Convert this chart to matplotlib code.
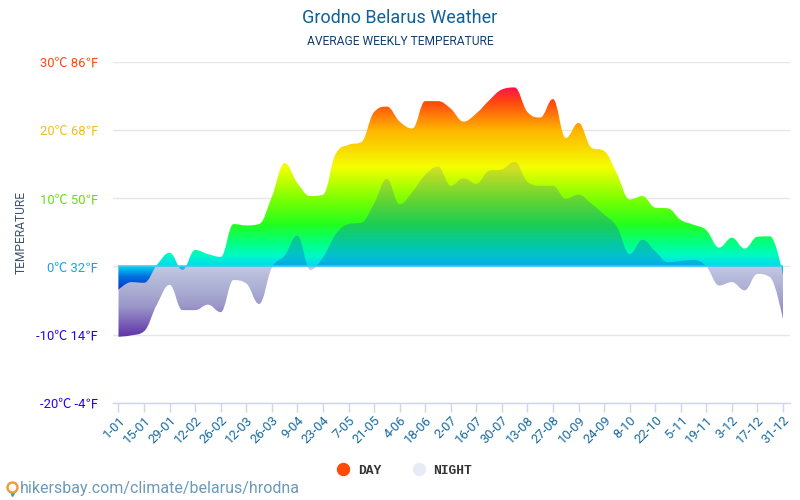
import numpy as np
import matplotlib
matplotlib.use("Agg")
import matplotlib.pyplot as plt
from matplotlib.colors import LinearSegmentedColormap
from matplotlib.lines import Line2D
from matplotlib.path import Path
from matplotlib.patches import PathPatch

# ---- data -------------------------------------------------------------
week_index = list(range(53))
day_temp = [-3.4, -2.3, -2.4, 0.2, 2.0, -0.5, 2.4, 1.8, 1.4, 6.2, 6.0, 6.2, 10.2,
            15.1, 12.2, 10.3, 10.5, 16.5, 17.8, 18.2, 22.6, 23.4, 21.2, 20.2,
            24.2, 24.2, 23.1, 21.2, 22.4, 24.3, 25.9, 26.2, 22.6, 21.8, 24.5,
            18.8, 21.0, 17.4, 16.9, 13.6, 9.8, 10.3, 8.6, 8.5, 6.8, 6.1, 5.3,
            2.75, 4.2, 2.6, 4.35, 4.4, -1.2]
night_temp = [-10.3, -10.1, -9.5, -5.6, -2.7, -6.4, -6.4, -5.6, -6.7, -2.0, -2.5,
              -5.5, -0.2, 1.6, 4.5, -0.5, 1.3, 4.7, 6.2, 6.4, 9.2, 12.8, 9.1,
              10.9, 13.4, 14.6, 11.8, 12.9, 12.1, 14.0, 14.2, 15.3, 12.4, 11.8,
              11.8, 9.9, 10.5, 9.2, 7.6, 5.8, 1.8, 3.9, 2.2, 0.6, 0.8, 0.95, 0.0,
              -2.8, -2.3, -3.5, -1.1, -1.6, -7.7]
tick_labels = ["1-01", "15-01", "29-01", "12-02", "26-02", "12-03", "26-03", "9-04",
               "23-04", "7-05", "21-05", "4-06", "18-06", "2-07", "16-07", "30-07",
               "13-08", "27-08", "10-09", "24-09", "8-10", "22-10", "5-11", "19-11",
               "3-12", "17-12", "31-12"]
y_values = [30, 20, 10, 0, -10, -20]
y_labels = ["30℃ 86℉", "20℃ 68℉", "10℃ 50℉", "0℃ 32℉", "-10℃ 14℉", "-20℃ -4℉"]
y_colors = ["#ff4a12", "#f5bd1f", "#66e011", "#12a5e8", "#2a00f0", "#2a00f0"]

# ---- style ------------------------------------------------------------
W, H = 800, 500
FONT = ["Roboto", "Noto Sans CJK SC", "DejaVu Sans"]
plt.rcParams["font.family"] = FONT
px = 0.72  # pixels -> points at dpi 100

fig = plt.figure(figsize=(W / 100, H / 100), dpi=100, facecolor="white")
L, R, T, B = 113, 790, 61.5, 403
ax = fig.add_axes([L / W, 1 - B / H, (R - L) / W, (B - T) / H])

PX_PER_WEEK = (783 - 118.5) / 52
xmin = -(118.5 - L) / PX_PER_WEEK
xmax = 52 + (R - 783) / PX_PER_WEEK


def spline_area(xs, ys, smoothing=1.5):
    """Closed area from the baseline 0 to a smooth curve through the given points."""
    n = len(xs)
    verts = [(xs[0], 0.0), (xs[0], ys[0])]
    codes = [Path.MOVETO, Path.LINETO]
    left, right = [None] * n, [None] * n
    for i in range(n):
        x, y = xs[i], ys[i]
        if i == 0 or i == n - 1:
            left[i] = right[i] = (x, y)
            continue
        xp, yp, xn, yn = xs[i - 1], ys[i - 1], xs[i + 1], ys[i + 1]
        d = smoothing + 1
        lx, ly = (smoothing * x + xp) / d, (smoothing * y + yp) / d
        rx, ry = (smoothing * x + xn) / d, (smoothing * y + yn) / d
        corr = (ry - ly) * (rx - x) / (rx - lx) + y - ry
        ly += corr
        ry += corr
        if ly > yp and ly > y:
            ly = max(yp, y)
            ry = 2 * y - ly
        elif ly < yp and ly < y:
            ly = min(yp, y)
            ry = 2 * y - ly
        if ry > yn and ry > y:
            ry = max(yn, y)
            ly = 2 * y - ry
        elif ry < yn and ry < y:
            ry = min(yn, y)
            ly = 2 * y - ry
        left[i], right[i] = (lx, ly), (rx, ry)
    for i in range(1, n):
        verts += [right[i - 1], left[i], (xs[i], ys[i])]
        codes += [Path.CURVE4] * 3
    verts += [(xs[-1], 0.0), (xs[0], 0.0)]
    codes += [Path.LINETO, Path.CLOSEPOLY]
    return Path(verts, codes)


def norm(v):
    return (v + 20) / 50


day_cmap = LinearSegmentedColormap.from_list("day", [
    (norm(-20), "#0030c0"), (norm(-3.4), "#0038d0"), (norm(-1.5), "#0070e0"),
    (norm(0), "#00d8f0"), (norm(1.5), "#00f8c8"), (norm(3), "#00ff90"),
    (norm(6), "#20ff20"), (norm(10), "#80ff00"), (norm(14.5), "#f4ff00"),
    (norm(20), "#ffb400"), (norm(24), "#ff4a10"), (norm(26.5), "#ff0a50"),
    (norm(30), "#ff0060")])
night_neg_cmap = LinearSegmentedColormap.from_list("night_neg", [
    (norm(-20), "#5a28a4"), (norm(-10.3), "#5f34a8"), (norm(-6), "#9a96c8"),
    (norm(-3), "#aeb2d6"), (norm(0), "#c2c8e3"), (norm(0.001), (1, 1, 1, 0)),
    (norm(30), (1, 1, 1, 0))])
night_pos_cmap = LinearSegmentedColormap.from_list("night_pos", [
    (norm(-20), (0.1, 0.25, 0.9, 0)), (norm(-0.001), (0.1, 0.25, 0.9, 0)),
    (norm(0), (0.05, 0.3, 0.85, 0.34)), (norm(6), (0.05, 0.28, 0.9, 0.27)),
    (norm(16), (0.2, 0.2, 0.85, 0.14)), (norm(30), (0.2, 0.2, 0.85, 0.12))])

grad = np.linspace(1, 0, 1000).reshape(-1, 1)
extent = [xmin, xmax, -20, 30]

day_patch = PathPatch(spline_area(week_index, day_temp), fc="none", ec="none",
                      transform=ax.transData)
night_patch = PathPatch(spline_area(week_index, night_temp), fc="none", ec="none",
                        transform=ax.transData)
ax.add_patch(day_patch)
ax.add_patch(night_patch)

for cmap, z, patch in [(night_neg_cmap, 2, night_patch), (day_cmap, 3, day_patch),
                       (night_pos_cmap, 4, night_patch)]:
    im = ax.imshow(grad, cmap=cmap, vmin=0, vmax=1, extent=extent, aspect="auto",
                   zorder=z, interpolation="bilinear")
    im.set_clip_path(patch)

ax.plot([week_index[0], week_index[-1]], [0, 0], color="#35d0ea", lw=1.1, zorder=5,
        solid_capstyle="butt")

ax.set_xlim(xmin, xmax)
ax.set_ylim(-20, 30)
for side in ("top", "left", "right"):
    ax.spines[side].set_visible(False)
ax.spines["bottom"].set_color("#ccd6eb")
ax.spines["bottom"].set_linewidth(1)
ax.set_axisbelow(True)
ax.yaxis.grid(True, color="#e6e6e6", lw=1)
ax.xaxis.grid(False)

ax.set_yticks(y_values)
ax.set_yticklabels(y_labels, fontsize=13 * px)
for lab, c in zip(ax.get_yticklabels(), y_colors):
    lab.set_color(c)
ax.tick_params(axis="y", length=0, pad=14.5 * px)

ax.set_xticks(np.arange(0, 53, 2))
ax.set_xticklabels(tick_labels, rotation=45, ha="right", va="top", rotation_mode="anchor",
                   fontsize=13 * px, color="#166ba0")
ax.tick_params(axis="x", length=9 * px, width=1, color="#ccd6eb", pad=2 * px)

fig.text(400 / W, 1 - 18 / H, "Grodno Belarus Weather", ha="center", va="center",
         fontsize=18 * px, color="#116199")
fig.text(400 / W, 1 - 41.5 / H, "AVERAGE WEEKLY TEMPERATURE", ha="center", va="center",
         fontsize=12 * px, color="#123e6e")
fig.text(21 / W, 1 - 233 / H, "TEMPERATURE", rotation=90, ha="center", va="center",
         fontsize=12 * px, color="#3b5470")

handles = [Line2D([], [], ls="none", marker="o", ms=12 * px, color="#ff4a08"),
           Line2D([], [], ls="none", marker="o", ms=12 * px, color="#e6ebf5")]
ax.legend(handles, ["DAY", "NIGHT"], ncol=2, frameon=False, loc="center",
          bbox_to_anchor=(401 / W, 1 - 471 / H), bbox_transform=fig.transFigure,
          prop={"family": "Liberation Mono", "weight": "bold", "size": 13 * px},
          labelcolor="#333333", handletextpad=0.1, columnspacing=1.9)

fig.text(20 / W, 1 - 489 / H, "hikersbay.com/climate/belarus/hrodna", ha="left", va="center",
         fontsize=16 * px, color="#6b9aba")
fig.add_artist(Line2D([12 / W], [1 - 492 / H], ls="none", marker="v", ms=7 * px, color="#2aa7a0",
                      transform=fig.transFigure))
fig.add_artist(Line2D([12 / W], [1 - 486.5 / H], ls="none", marker="o", ms=10 * px, mfc="white",
                      mec="#f2993a", mew=2.4 * px, transform=fig.transFigure))

fig.savefig("out.png", dpi=100, facecolor="white")
